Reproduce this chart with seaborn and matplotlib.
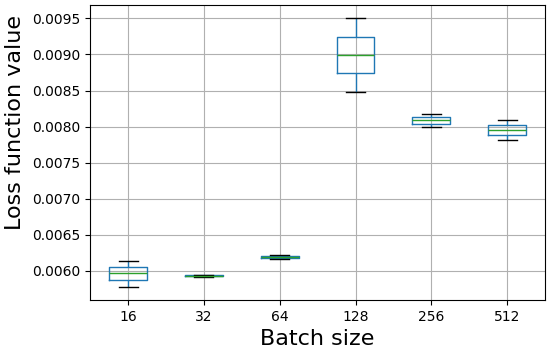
import pandas as pd
import matplotlib
matplotlib.use("Agg")
import matplotlib.pyplot as plt
import seaborn as sns

# box stats (min, q1, median, q3, max)
batch_sizes = ["16", "32", "64", "128", "256", "512"]
loss_min = [0.005782, 0.005910, 0.006166, 0.008485, 0.007996, 0.007820]
loss_q1 = [0.005875, 0.005925, 0.006182, 0.008740, 0.008042, 0.007885]
loss_med = [0.005968, 0.005931, 0.006194, 0.008994, 0.008089, 0.007955]
loss_q3 = [0.006051, 0.005937, 0.006206, 0.009248, 0.008135, 0.008020]
loss_max = [0.006143, 0.005945, 0.006218, 0.009500, 0.008176, 0.008089]

rows = []
for i, b in enumerate(batch_sizes):
    for v in [loss_min[i], loss_q1[i], loss_med[i], loss_q3[i], loss_max[i]]:
        rows.append({"batch": b, "loss": v})
df = pd.DataFrame(rows)

fig = plt.figure(figsize=(5.5, 3.51), dpi=100)
ax = fig.add_axes([0.164, 0.145, 0.827, 0.841])

sns.boxplot(data=df, x="batch", y="loss", order=batch_sizes, ax=ax,
            width=0.5, whis=(0, 100), fill=False, linewidth=1.0,
            boxprops=dict(color="#1f77b4"),
            whiskerprops=dict(color="#1f77b4"),
            capprops=dict(color="black"),
            medianprops=dict(color="#2ca02c"))

ax.grid(True, color="#b0b0b0", linewidth=0.8)
ax.set_axisbelow(True)
ax.set_ylim(0.005596, 0.009686)
ax.set_yticks([0.0060, 0.0065, 0.0070, 0.0075, 0.0080, 0.0085, 0.0090, 0.0095])
ax.set_yticklabels([f"{t:.4f}" for t in ax.get_yticks()])
ax.tick_params(labelsize=10)
ax.set_xlabel("Batch size", fontsize=16)
ax.set_ylabel("Loss function value", fontsize=16)
ax.yaxis.set_label_coords(-0.143, 0.60)

fig.savefig("out.png", dpi=100)
